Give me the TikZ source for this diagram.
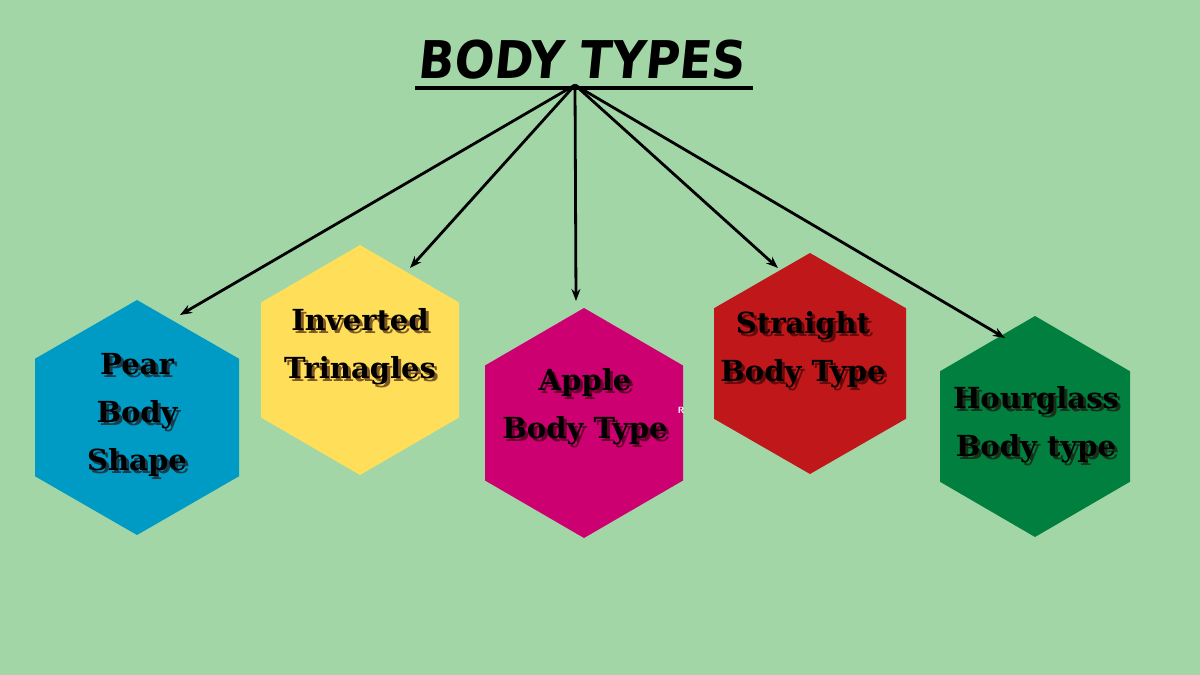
\documentclass[tikz,border=0pt]{standalone}
\usepackage{fontspec}
\setmainfont{DejaVu Serif}
\newfontfamily\titlefont{DejaVu Sans Condensed}
\usetikzlibrary{arrows.meta}
\definecolor{bg}{HTML}{A3D6A7}
\definecolor{hblue}{HTML}{009BC4}
\definecolor{hyellow}{HTML}{FFDE59}
\definecolor{hmag}{HTML}{CC0071}
\definecolor{hred}{HTML}{C0171A}
\definecolor{hgreen}{HTML}{007F3F}
\tikzset{
  lbl/.style={font=\fontsize{29}{48}\selectfont\bfseries, align=center, text=black, inner sep=0},
  shd/.style={lbl, text=black!60!red!40!black, opacity=0.6},
  conn/.style={-{Stealth[length=12pt,width=9pt]}, line width=2.8pt, black}
}
\newcommand{\hexag}[5]{% cx, top, bottom, half-width, color
  \fill[#5] (#1,#2) -- (#1+#4,#2*0.75+#3*0.25) -- (#1+#4,#2*0.25+#3*0.75) -- (#1,#3) -- (#1-#4,#2*0.25+#3*0.75) -- (#1-#4,#2*0.75+#3*0.25) -- cycle;}
\newcommand{\shlabel}[4]{% name, x, y, text
  \node[shd] at (#2+3,#3+3) {#4};
  \node[lbl] (#1) at (#2,#3) {#4};}
\begin{document}
\begin{tikzpicture}[x=1pt,y=-1pt]
\fill[bg] (0,0) rectangle (1200,675);
\useasboundingbox (0,0) rectangle (1200,675);
\hexag{137}{300}{535}{102}{hblue}
\hexag{360}{245}{475}{99}{hyellow}
\hexag{584}{308}{538}{99}{hmag}
\hexag{810}{253}{474}{96}{hred}
\hexag{1035}{316}{537}{95}{hgreen}
\node[font=\titlefont\fontsize{52}{52}\selectfont\bfseries, xslant=0.1, inner sep=0] (title) at (583,60) {BODY TYPES};
\draw[line width=4pt] (415,88) -- (753,88);
\coordinate (src) at (575,85);
\coordinate (t1) at (180,315);
\coordinate (t2) at (410,268);
\coordinate (t3) at (576,301);
\coordinate (t4) at (778,268);
\coordinate (t5) at (1005,338);
\foreach \t in {t1,t2,t3,t4,t5} \draw[conn] (src) -- (\t);
\shlabel{p}{137}{415}{Pear\\Body\\Shape}
\shlabel{i}{360}{347}{Inverted\\Trinagles}
\shlabel{a}{585}{407}{Apple\\Body Type}
\shlabel{s}{803}{350}{Straight\\Body Type}
\shlabel{h}{1036}{425}{Hourglass\\Body type}
\node[text=white, font=\sffamily\fontsize{9}{9}\selectfont\bfseries, inner sep=0] (r) at (681,410) {R};
\end{tikzpicture}
\end{document}
